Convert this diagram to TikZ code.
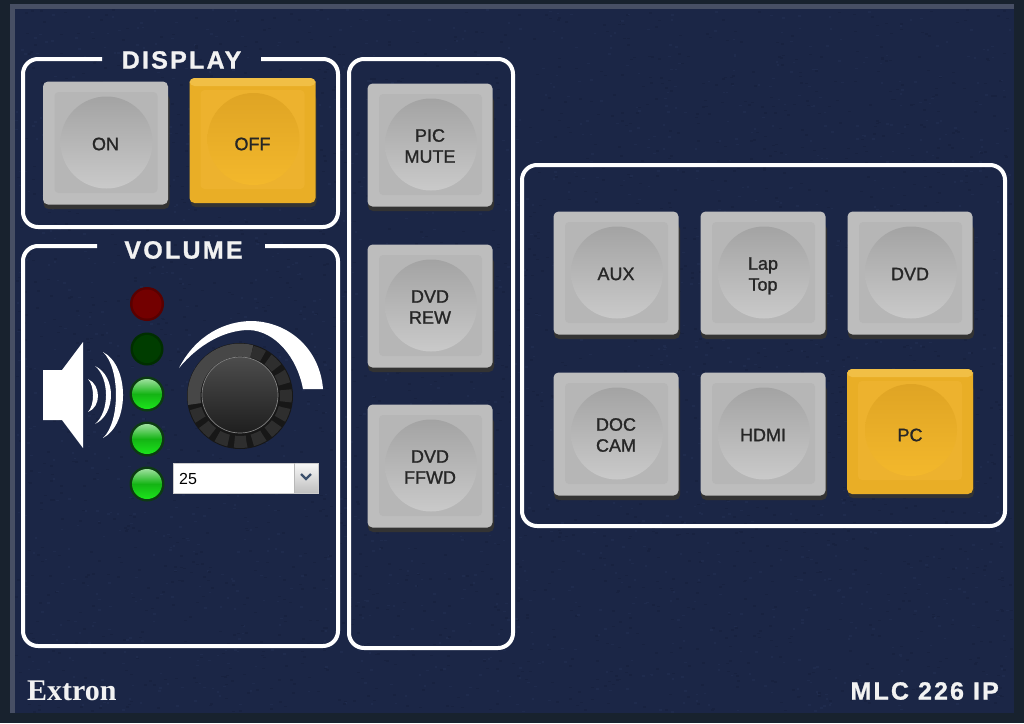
\documentclass[tikz,border=0pt]{standalone}
\usepackage{fontspec}
\setmainfont{Liberation Sans}
\newfontfamily\serifb{Liberation Serif}
\usetikzlibrary{shadings,calc}
\definecolor{panelbg}{HTML}{1B2646}
\definecolor{speckd}{HTML}{182240}
\definecolor{speckl}{HTML}{1F2B4D}
\definecolor{outerbg}{HTML}{18222E}
\definecolor{frameedge}{HTML}{474F64}
\definecolor{goldedge}{HTML}{E9AE26}
\definecolor{goldtop}{HTML}{F1BF45}
\definecolor{goldmid}{HTML}{EDB22E}
\definecolor{goldcirt}{HTML}{DFA424}
\definecolor{goldcirb}{HTML}{F3B82C}
\definecolor{ledring}{HTML}{0C3A12}
\definecolor{ledtop}{HTML}{9CE09C}
\definecolor{ledmid}{HTML}{14B414}
\definecolor{ledlow}{HTML}{1CE41C}
\definecolor{chevron}{HTML}{3B4F6B}
\tikzset{
  grouprule/.style={draw=white,line width=4pt,rounded corners=15pt},
  btnlabel/.style={font=\fontsize{18}{21}\selectfont\addfontfeature{FakeBold=1.2},text=black!85,align=center,inner sep=0pt},
  headlabel/.style={font=\bfseries\fontsize{25}{28}\selectfont\addfontfeature{LetterSpace=9,FakeBold=1},text=white!95!black,inner sep=0pt},
  brandlabel/.style={text=white!95!black,inner sep=0pt},
}
\newcommand{\keygray}[4]{%
  \fill[black!80,rounded corners=5pt] (#2-62,#3-50) rectangle (#2+64,#3+65);
  \fill[rounded corners=5pt,black!26] (#2-62.5,#3-62.5) rectangle (#2+62.5,#3+60.5);
  \fill[rounded corners=4pt,black!28.5] (#2-51,#3-52) rectangle (#2+52,#3+49);
  \shade[top color=black!36,bottom color=black!21] (#2+1,#3-1.5) circle[radius=46];
  \node[btnlabel] (#1) at (#2,#3) {#4};}
\newcommand{\keygold}[4]{%
  \fill[black!80,rounded corners=5pt] (#2-62,#3-50) rectangle (#2+64,#3+63);
  \fill[rounded corners=5pt,goldedge] (#2-63,#3-66) rectangle (#2+63,#3+59);
  \fill[rounded corners=5pt,goldtop] (#2-63,#3-66) rectangle (#2+63,#3-58);
  \fill[rounded corners=4pt,goldmid] (#2-52,#3-54) rectangle (#2+52,#3+45);
  \shade[top color=goldcirt,bottom color=goldcirb] (#2+1,#3-5) circle[radius=46];
  \node[btnlabel] (#1) at (#2,#3) {#4};}
\pgfmathsetseed{42}
\begin{document}
\begin{tikzpicture}[x=1pt,y=-1pt]
\useasboundingbox (0,0) rectangle (1024,723);
\fill[outerbg] (0,0) rectangle (1024,723);
\fill[panelbg] (10,4) rectangle (1014,713);
% leather grain
\foreach \i in {1,...,4000}{
  \pgfmathsetmacro{\px}{15+rnd*996}
  \pgfmathsetmacro{\py}{9+rnd*702}
  \pgfmathsetmacro{\pk}{rnd}
  \ifdim\pk pt<.55pt
    \fill[speckd] (\px,\py) rectangle +(3,1.5);
  \else
    \fill[speckl] (\px,\py) rectangle +(2.5,1.5);
  \fi
}
\draw[frameedge,line width=5pt] (12.5,713) -- (12.5,6.5) -- (1014,6.5);
% group outlines
\draw[grouprule] (102,59) -- (23,59) -- (23,227) -- (338,227) -- (338,59) -- (261,59);
\draw[grouprule] (97,246) -- (23,246) -- (23,646) -- (338,646) -- (338,246) -- (265,246);
\draw[grouprule] (349,59) rectangle (513,648);
\draw[grouprule] (522,165) rectangle (1005,526);
\node[headlabel] (hdisplay) at (181.5,60) {DISPLAY};
\node[headlabel] (hvolume) at (183.5,250) {VOLUME};
% buttons
\keygray{kon}{105.5}{144}{ON}
\keygold{koff}{252.5}{144}{OFF}
\keygray{kpic}{430}{146}{PIC\\MUTE}
\keygray{krew}{430}{307}{DVD\\REW}
\keygray{kffwd}{430}{467}{DVD\\FFWD}
\keygray{kaux}{616}{274}{AUX}
\keygray{klap}{763}{274}{Lap\\\smash{Top}}
\keygray{kdvd}{910}{274}{DVD}
\keygray{kdoc}{616}{435}{DOC\\CAM}
\keygray{khdmi}{763}{435}{HDMI}
\keygold{kpc}{910}{435}{PC}
% speaker
\fill[white] (43,370) -- (62,370) -- (83,342) -- (83,448) -- (62,420) -- (43,420) -- cycle;
\fill[white] (88,379) .. controls (101.3,385) and (101.3,407) .. (88,412) .. controls (94.7,405) and (94.7,386) .. (88,379) -- cycle;
\fill[white] (95,366) .. controls (116.3,376) and (116.3,414) .. (95,424) .. controls (109.7,412) and (109.7,378) .. (95,366) -- cycle;
\fill[white] (103,352) .. controls (129.7,366) and (129.7,424) .. (103,438) .. controls (120.3,422) and (120.3,368) .. (103,352) -- cycle;
% leds
\fill[red!35!black] (147,304) circle[radius=17];
\fill[red!45!black] (147,304) circle[radius=14.5];
\fill[green!18!black] (147,349) circle[radius=16.5];
\fill[green!24!black] (147,349) circle[radius=14];
\foreach \cy in {394,439,484}{
  \fill[ledring] (147,\cy) circle[radius=17.5];
  \shade[top color=ledtop,bottom color=ledmid] (132,\cy) arc[start angle=180,end angle=360,radius=15] -- cycle;
  \shade[top color=ledmid,bottom color=ledlow] (132,\cy) arc[start angle=180,end angle=0,radius=15] -- cycle;
}
% knob arc
\fill[white] (179,368) .. controls (196,335) and (225,321) .. (252,321) .. controls (290,322) and (320,350) .. (323,389) -- (303,389) .. controls (297,357) and (275,331) .. (249,330) .. controls (224,330) and (198,345) .. (179,368) -- cycle;
% knob
\fill[black!91] (240,396) circle[radius=53];
\draw[black!72,line width=13pt] (240,396) ++(170:46) arc[start angle=170,end angle=285,radius=46];
\draw[black!82,line width=12pt,dash pattern=on 12pt off 6pt] (240,396) ++(285:46) arc[start angle=285,end angle=530,radius=46];
\shade[shading angle=20,top color=black!70,bottom color=black!88] (240,395) circle[radius=38];
\draw[black!50,line width=.7pt] (240,395) circle[radius=38];
% dropdown
\fill[white] (173,463) rectangle (318,493);
\shade[top color=black!3,bottom color=black!25] (294,463) rectangle (318,493);
\draw[black!20,line width=.8pt] (173,463) rectangle (318,493);
\draw[black!28,line width=.8pt] (294,463) -- (294,493);
\draw[chevron,line width=2.4pt] (301,474) -- (306,479) -- (311,474);
\node[font=\fontsize{16}{19}\selectfont,anchor=west,inner sep=0pt,text=black] (dropval) at (179,479) {25};
% brand
\node[brandlabel,anchor=west,font=\serifb\bfseries\fontsize{30}{32}\selectfont] (brand) at (27,691) {Extron};
\node[brandlabel,anchor=east,font=\bfseries\fontsize{25}{28}\selectfont\addfontfeature{LetterSpace=8.5,FakeBold=1}] (model) at (999,691) {MLC 226 IP};
\end{tikzpicture}
\end{document}
